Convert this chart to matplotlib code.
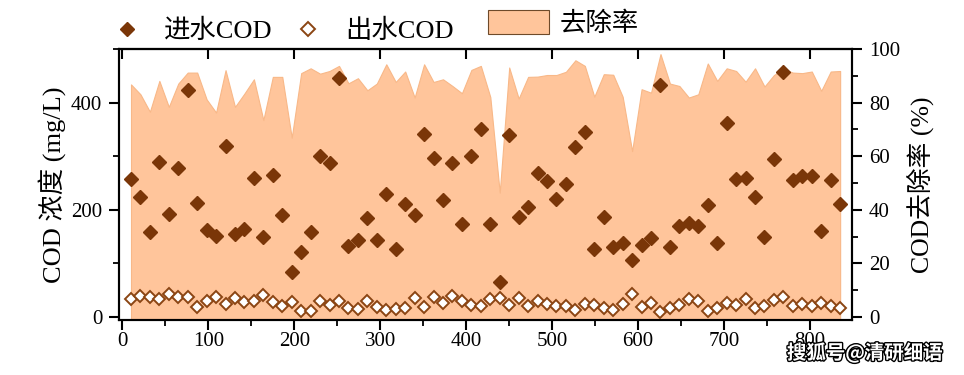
import numpy as np
import matplotlib.pyplot as plt
import matplotlib.patheffects as pe
from matplotlib.lines import Line2D
from matplotlib.patches import Patch
from matplotlib.ticker import MultipleLocator

plt.rcParams['font.family'] = ['Liberation Serif', 'Noto Sans CJK SC']
plt.rcParams['axes.unicode_minus'] = False

days = [10, 21, 32, 43, 54, 65, 76, 87, 98, 109, 120, 131, 142, 153, 164, 175,
        186, 197, 208, 219, 230, 241, 252, 263, 274, 285, 296, 307, 318, 329,
        340, 351, 362, 373, 384, 395, 406, 417, 428, 439, 450, 461, 472, 483,
        494, 505, 516, 527, 538, 549, 560, 571, 582, 593, 604, 615, 626, 637,
        648, 659, 670, 681, 692, 703, 714, 725, 736, 747, 758, 769, 780, 791,
        802, 813, 824, 835]

cod_in = [257, 224, 159, 290, 193, 278, 424, 213, 162, 151, 320, 154, 165, 260,
          150, 265, 191, 84, 121, 158, 300, 288, 446, 132, 143, 185, 143, 230,
          126, 210, 191, 341, 296, 218, 287, 173, 300, 350, 173, 66, 339, 186,
          206, 268, 253, 220, 249, 318, 345, 127, 186, 131, 138, 106, 134, 148,
          433, 131, 169, 176, 169, 209, 138, 362, 258, 259, 224, 149, 295, 457,
          255, 264, 263, 161, 255, 210]

cod_out = [33.6, 38.6, 38.0, 33.6, 43.6, 36.8, 36.8, 18.7, 29.3, 38.0, 24.9,
           34.9, 27.4, 29.9, 40.5, 27.4, 19.9, 28.0, 10.6, 10.6, 29.3, 22.4,
           29.3, 16.8, 15.6, 30.0, 18.7, 13.0, 15.0, 17.4, 35.5, 18.7, 36.8,
           25.5, 39.9, 29.9, 22.4, 21.2, 33.0, 35.5, 22.4, 35.5, 19.9, 29.9,
           24.9, 21.2, 21.2, 13.0, 24.9, 22.4, 17.5, 13.0, 24.3, 43.0, 18.7,
           25.5, 8.7, 17.4, 23.0, 34.3, 30.5, 11.8, 17.4, 25.5, 21.8, 34.3,
           16.8, 21.2, 31.2, 37.4, 21.2, 23.7, 21.2, 25.5, 21.2, 16.8]

removal = [86.8, 83.1, 76.6, 88.1, 78.4, 87.1, 91.2, 91.2, 81.2, 76.3, 92.1,
           78.4, 83.4, 88.7, 73.5, 89.6, 89.6, 66.9, 91.0, 92.8, 90.8, 91.8,
           93.7, 87.2, 89.1, 84.6, 87.1, 94.3, 87.7, 91.6, 81.9, 94.3, 87.7,
           88.7, 86.2, 83.5, 92.2, 93.7, 82.1, 46.4, 93.1, 81.5, 89.6, 89.7,
           90.3, 90.3, 91.5, 95.8, 93.7, 82.2, 90.6, 90.4, 82.2, 61.9, 85.0,
           83.7, 98.1, 87.1, 86.2, 81.9, 83.1, 94.6, 88.1, 92.8, 91.8, 87.8,
           92.8, 86.0, 90.3, 92.5, 91.2, 91.0, 91.6, 84.4, 91.6, 91.8]

fill_c = '#FFC59B'
dark = '#7A3608'
edge = '#8B4513'

fig = plt.figure(figsize=(9.64, 3.75), dpi=100)
ax = fig.add_axes([0.1234, 0.1467, 0.7606, 0.7226])
ax2 = ax.twinx()
ax.set_zorder(2)
ax.patch.set_visible(False)
ax2.set_zorder(1)

ax2.fill_between(days, removal, -1.1, color=fill_c, lw=0.8, edgecolor='#F8B888')
ax2.set_ylim(-1.1, 100)

ax.plot(days, cod_in, ls='none', marker='D', ms=6.8, mfc=dark, mec=dark, mew=1)
ax.plot(days, cod_out, ls='none', marker='D', ms=6.5, mfc='white', mec=edge, mew=1.4)

ax.set_xlim(-4, 849)
ax.set_ylim(-5.5, 500)

ax.xaxis.set_major_locator(MultipleLocator(100))
ax.xaxis.set_minor_locator(MultipleLocator(50))
ax.yaxis.set_major_locator(MultipleLocator(200))
ax.yaxis.set_minor_locator(MultipleLocator(100))
ax2.yaxis.set_major_locator(MultipleLocator(20))
ax2.yaxis.set_minor_locator(MultipleLocator(10))

for a in (ax, ax2):
    for s in a.spines.values():
        s.set_linewidth(1.5)

ax.tick_params(axis='x', which='major', direction='out', length=7, width=1.5,
               labelsize=15, pad=2)
ax.tick_params(axis='x', which='minor', direction='out', length=4, width=1.3)
ax.tick_params(axis='y', which='major', direction='out', length=7, width=1.5,
               labelsize=15, pad=5)
ax.tick_params(axis='y', which='minor', direction='out', length=4, width=1.3)
ax2.tick_params(axis='y', which='major', direction='out', length=7, width=1.5,
                labelsize=15, pad=5)
ax2.tick_params(axis='y', which='minor', direction='out', length=4, width=1.3)

# top ticks point inward
sec = ax.secondary_xaxis('top')
sec.xaxis.set_major_locator(MultipleLocator(100))
sec.tick_params(direction='in', length=7, width=1.5, labeltop=False)
sec.spines['top'].set_linewidth(1.5)

ax.set_ylabel('COD 浓度 (mg/L)', fontsize=19, labelpad=3)
ax2.set_ylabel('COD去除率 (%)', fontsize=18.5, labelpad=5)

h1 = [Line2D([], [], ls='none', marker='D', ms=7, mfc=dark, mec=dark),
      Line2D([], [], ls='none', marker='D', ms=7, mfc='white', mec=edge, mew=1.4)]
leg1 = fig.legend(h1, ['进水COD', '出水COD'], loc='center left',
                  bbox_to_anchor=(110 / 964, 1 - 31 / 375), ncol=2, frameon=False,
                  fontsize=19, handlelength=1.3, handletextpad=0.75,
                  columnspacing=0.7, borderpad=0, borderaxespad=0)
leg2 = fig.legend([Patch(facecolor=fill_c, edgecolor='#6E4A2A', lw=0.8)], ['去除率'],
                  loc='center left', bbox_to_anchor=(488 / 964, 1 - 23 / 375),
                  frameon=False, fontsize=19, handlelength=2.3,
                  handleheight=1.0, handletextpad=0.4, borderpad=0,
                  borderaxespad=0)

fig.text(865 / 964, 1 - 353 / 375, '搜狐号@清研细语', fontsize=14, color='white',
         ha='center', va='center', family=['Noto Sans CJK SC'], weight='bold',
         path_effects=[pe.withStroke(linewidth=2, foreground='black')])

fig.savefig('out.png', dpi=100)
